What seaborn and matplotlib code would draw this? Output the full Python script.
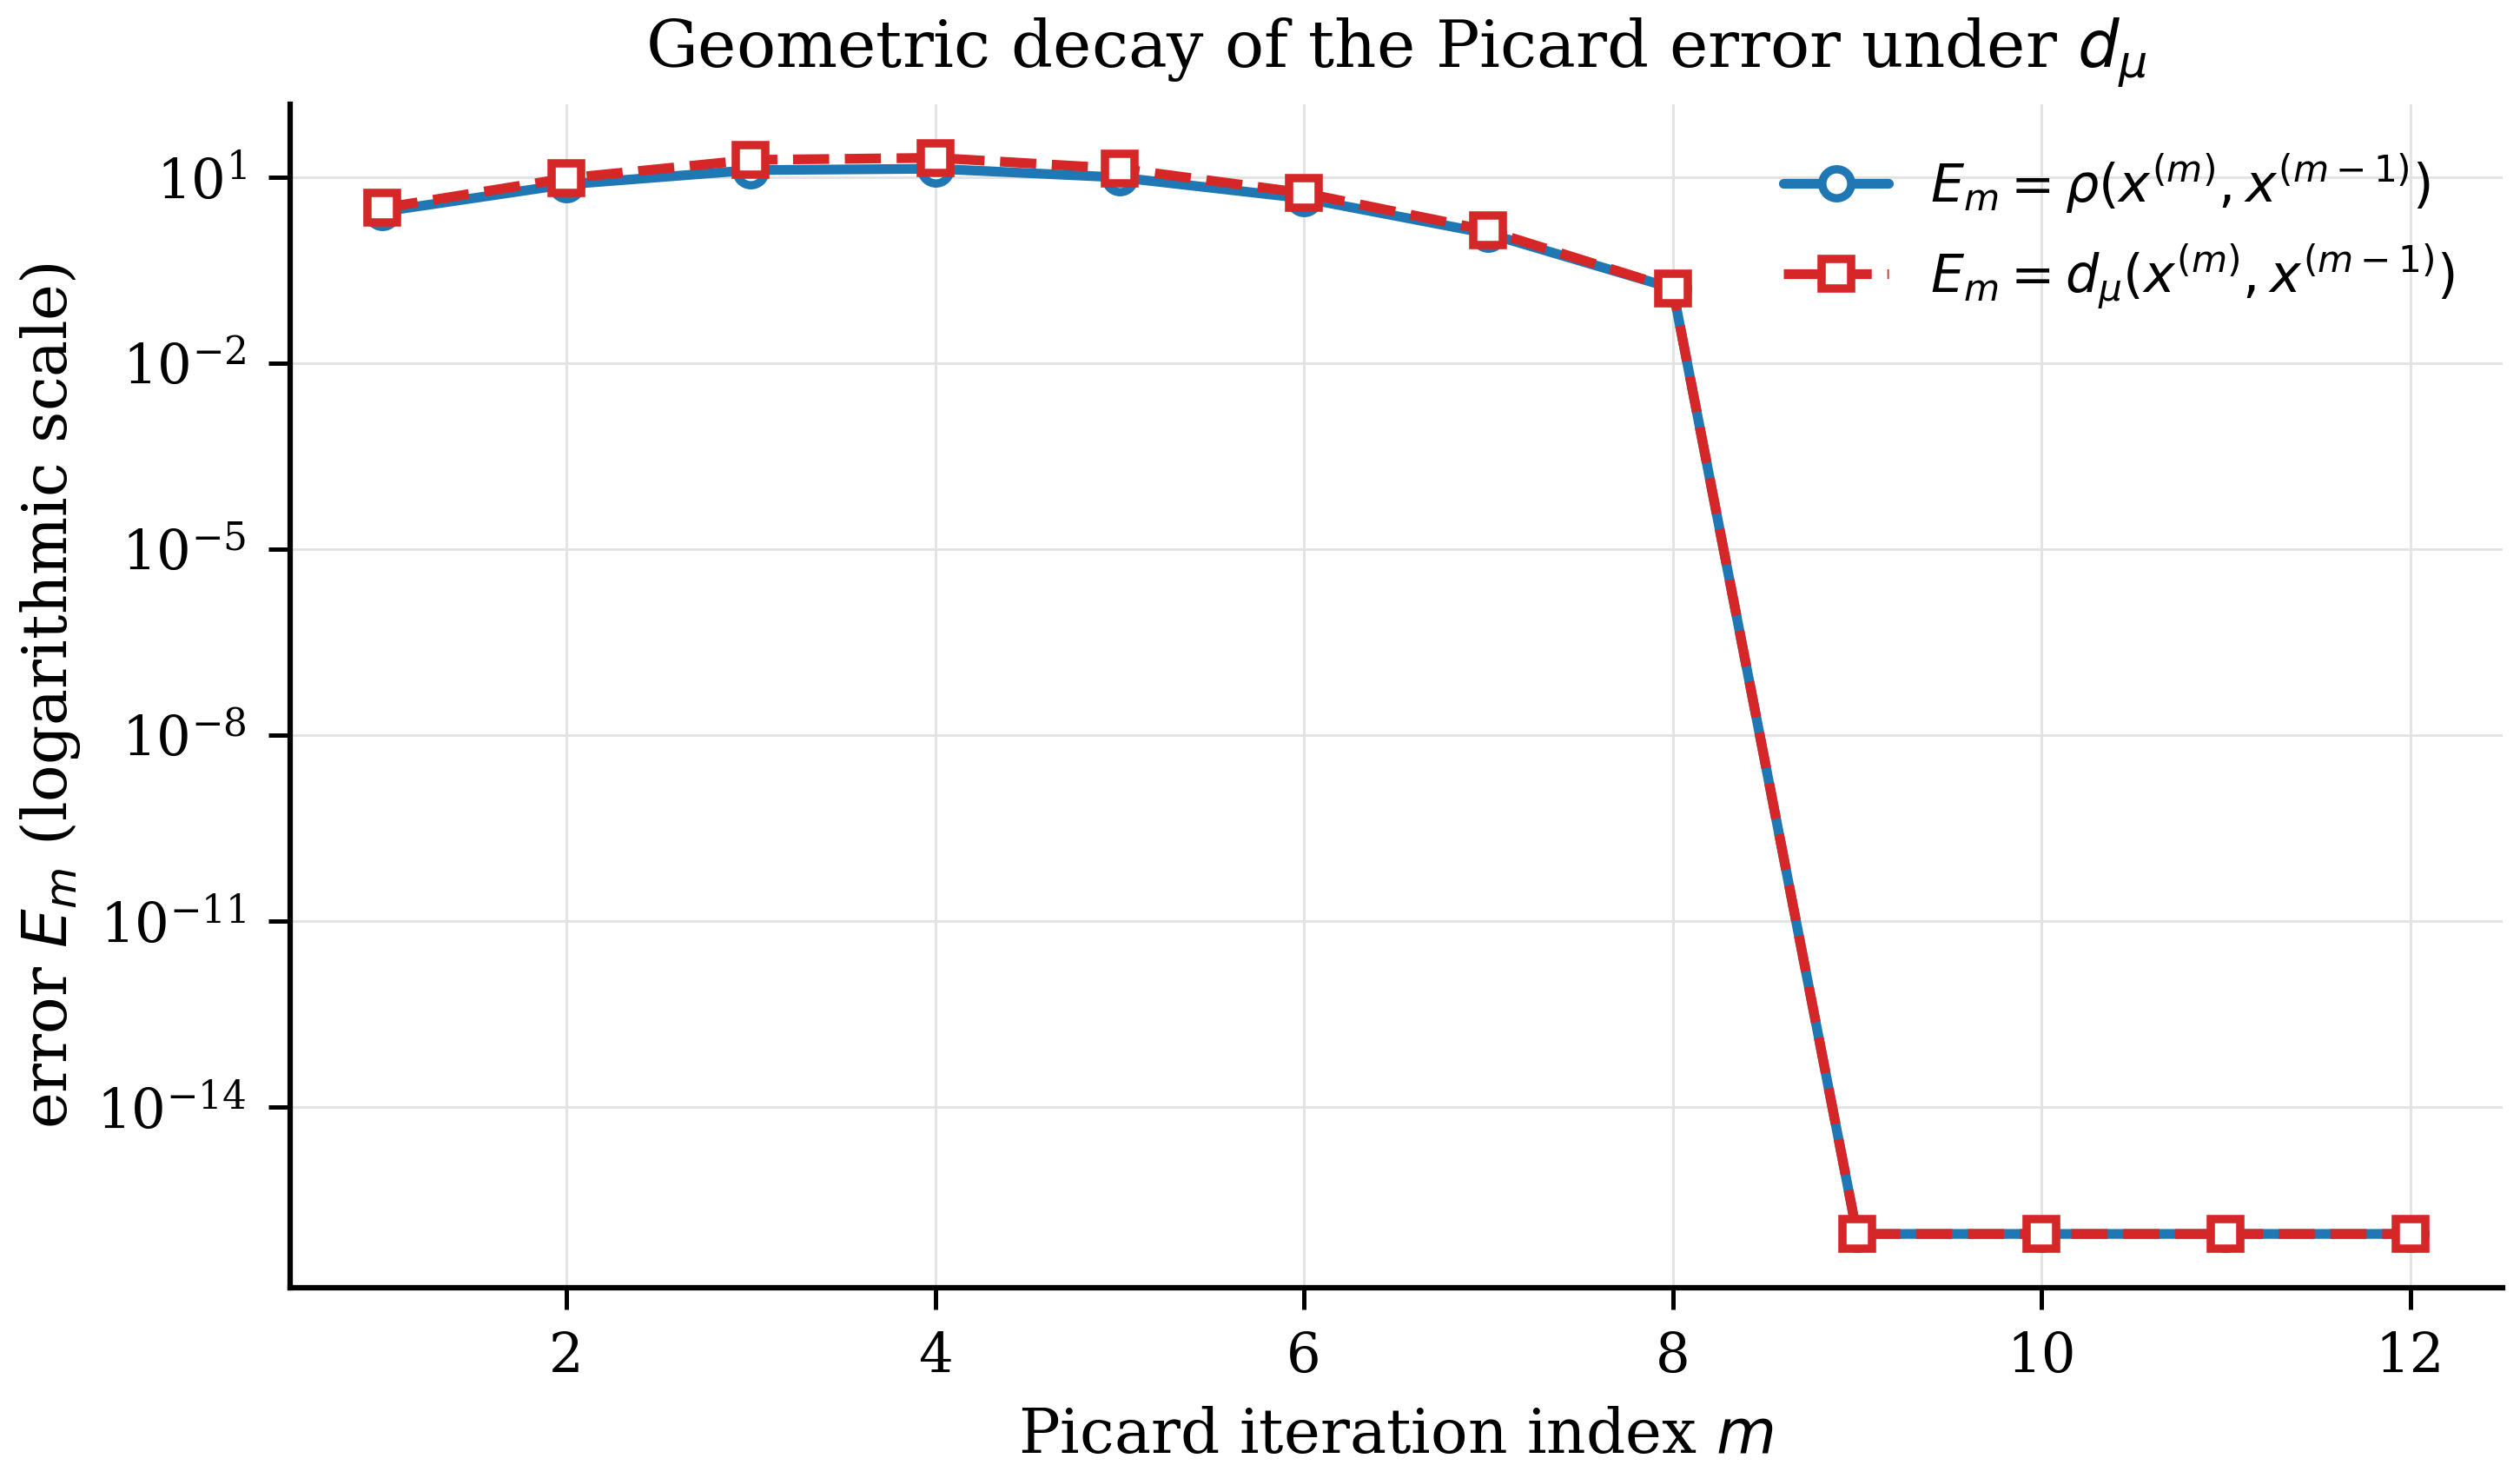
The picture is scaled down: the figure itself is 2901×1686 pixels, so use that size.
import matplotlib
matplotlib.use("Agg")
import matplotlib.pyplot as plt
import numpy as np
import pandas as pd
import seaborn as sns

# Picard iteration data
iters = [1, 2, 3, 4, 5, 6, 7, 8, 9, 10, 11, 12]
err_rho = [2.8, 7.7, 13.1, 13.8, 10.0, 4.6, 1.24, 0.163, 9e-17, 9e-17, 9e-17, 9e-17]
err_dmu = [3.2, 9.7, 19.2, 20.7, 13.9, 5.6, 1.39, 0.163, 9e-17, 9e-17, 9e-17, 9e-17]

label_rho = r'$E_m = \rho(x^{(m)}, x^{(m-1)})$'
label_dmu = r'$E_m = d_\mu(x^{(m)}, x^{(m-1)})$'

df = pd.DataFrame({'m': iters, 'rho': err_rho, 'dmu': err_dmu})

sns.set_theme(style='ticks')
plt.rcParams['font.family'] = ['DejaVu Serif']
plt.rcParams['mathtext.fontset'] = 'dejavusans'
plt.rcParams['text.color'] = 'black'
plt.rcParams['axes.labelcolor'] = 'black'
plt.rcParams['xtick.color'] = 'black'
plt.rcParams['ytick.color'] = 'black'

fig, ax = plt.subplots(figsize=(2901 / 300, 1686 / 300), dpi=300)
fig.subplots_adjust(left=0.115, right=0.993, top=0.929, bottom=0.121)

sns.lineplot(data=df, x='m', y='rho', ax=ax, color='#1f77b4', lw=2.7,
             marker='o', markersize=8, markerfacecolor='white',
             markeredgecolor='#1f77b4', markeredgewidth=2.3, label=label_rho)
sns.lineplot(data=df, x='m', y='dmu', ax=ax, color='#d62728', lw=2.7,
             linestyle='--', marker='s', markersize=8, markerfacecolor='white',
             markeredgecolor='#d62728', markeredgewidth=2.3, label=label_dmu)

ax.set_yscale('log')
ax.set_xlim(0.5, 12.5)
ax.set_yticks([1e1, 1e-2, 1e-5, 1e-8, 1e-11, 1e-14])
ax.minorticks_off()
ax.grid(True, color='#e3e3e3', lw=0.7)
ax.set_axisbelow(True)

ax.set_title(r'Geometric decay of the Picard error under $d_\mu$', fontsize=18, pad=10)
ax.set_xlabel(r'Picard iteration index $m$', fontsize=17, labelpad=6)
ax.set_ylabel(r'error $E_m$ (logarithmic scale)', fontsize=17)
ax.tick_params(labelsize=15, width=1.2, length=6, pad=6, color='black')
for side in ['left', 'bottom']:
    ax.spines[side].set_linewidth(1.5)
    ax.spines[side].set_color('black')
sns.despine(ax=ax)

ax.legend(loc='upper right', frameon=False, fontsize=14.5)

fig.savefig('out.png', dpi=300)
